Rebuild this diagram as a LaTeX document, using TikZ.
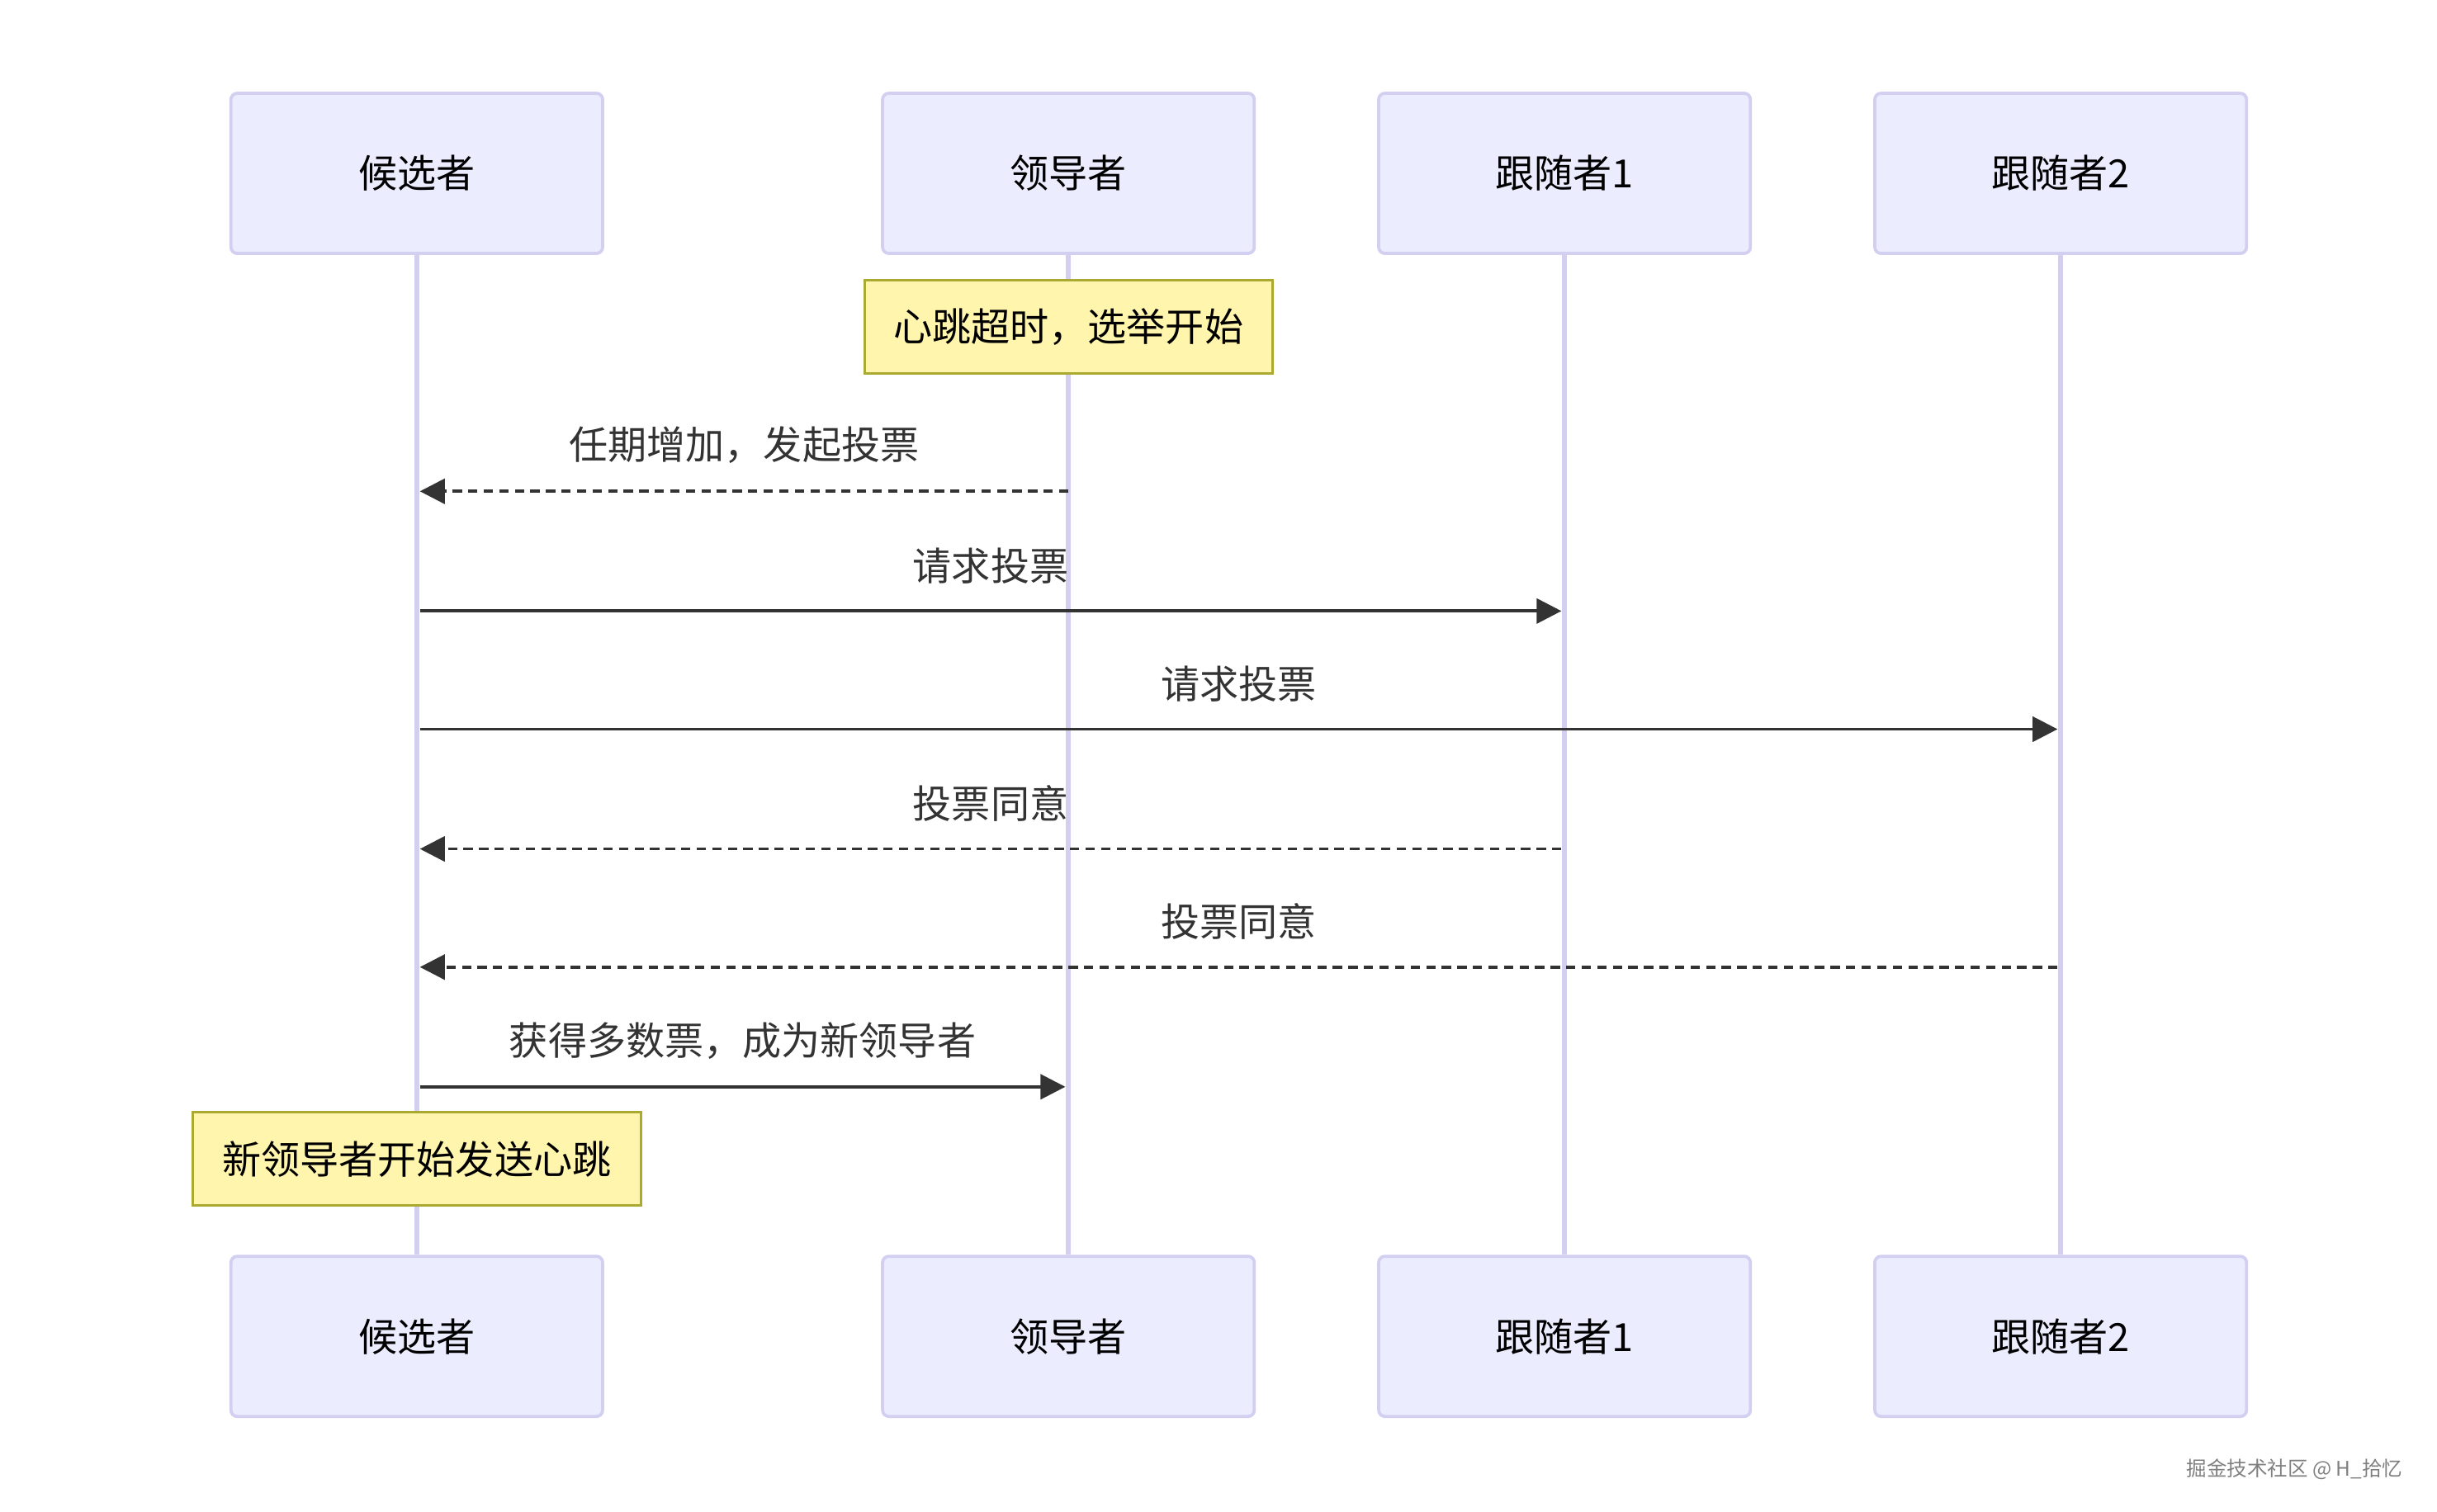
\documentclass[tikz,border=0pt]{standalone}
\usepackage{fontspec}
\setmainfont{Noto Sans CJK SC}
\usetikzlibrary{arrows.meta}
\definecolor{actfill}{HTML}{ECECFF}
\definecolor{actline}{HTML}{D3CFF0}
\definecolor{notefill}{HTML}{FFF5AD}
\definecolor{noteline}{HTML}{AAAA33}
\definecolor{msgline}{HTML}{333333}
\tikzset{
  actor/.style={rectangle, rounded corners=2pt, fill=actfill, draw=actline, line width=1pt, minimum width=119.5pt, minimum height=51.5pt, font=\fontsize{12.5}{15}\selectfont},
  life/.style={draw=actline, line width=1.5pt},
  note/.style={rectangle, fill=notefill, draw=noteline, line width=0.8pt, minimum height=30pt, inner xsep=8pt, font=\fontsize{12.5}{15}\selectfont},
  msg/.style={draw=msgline, line width=1pt, -{Triangle[length=8pt,width=8pt]}},
  reply/.style={msg, dash pattern=on 3pt off 2pt},
  lbl/.style={font=\fontsize{12.5}{15}\selectfont, text=msgline}
}
\begin{document}
\begin{tikzpicture}[x=0.5pt,y=-0.5pt]
\useasboundingbox (0,0) rectangle (1567,972);
\node[actor] (cand) at (268,111.5) {候选者};
\node[actor] (lead) at (687,111.5) {领导者};
\node[actor] (fol1) at (1006,111.5) {跟随者1};
\node[actor] (fol2) at (1325,111.5) {跟随者2};
\node[actor] (candb) at (268,859.5) {候选者};
\node[actor] (leadb) at (687,859.5) {领导者};
\node[actor] (fol1b) at (1006,859.5) {跟随者1};
\node[actor] (fol2b) at (1325,859.5) {跟随者2};
\draw[life] (cand) -- (candb);
\draw[life] (lead) -- (leadb);
\draw[life] (fol1) -- (fol1b);
\draw[life] (fol2) -- (fol2b);
% notes
\node[note, minimum width=131pt] (n1) at (687,210) {心跳超时，选举开始};
% messages
\coordinate (c1) at (270,316); \coordinate (l1) at (687,316);
\draw[reply] (l1) -- (c1) node[lbl, midway, above=5pt] {任期增加，发起投票};
\coordinate (c2) at (270,393); \coordinate (f2) at (1004,393);
\draw[msg] (c2) -- (f2) node[lbl, midway, above=5pt] {请求投票};
\coordinate (c3) at (270,469); \coordinate (g3) at (1323,469);
\draw[msg] (c3) -- (g3) node[lbl, midway, above=5pt] {请求投票};
\coordinate (c4) at (270,546); \coordinate (f4) at (1004,546);
\draw[reply] (f4) -- (c4) node[lbl, midway, above=5pt] {投票同意};
\coordinate (c5) at (270,622); \coordinate (g5) at (1323,622);
\draw[reply] (g5) -- (c5) node[lbl, midway, above=5pt] {投票同意};
\coordinate (c6) at (270,699); \coordinate (l6) at (685,699);
\draw[msg] (c6) -- (l6) node[lbl, midway, above=5pt] {获得多数票，成为新领导者};
\node[note, minimum width=144pt] (n2) at (268,745.5) {新领导者开始发送心跳};
\node[font=\fontsize{6.5}{8}\selectfont, text=gray, anchor=east] (wm) at (1552,945) {掘金技术社区 @ H\_拾忆};
\end{tikzpicture}
\end{document}
